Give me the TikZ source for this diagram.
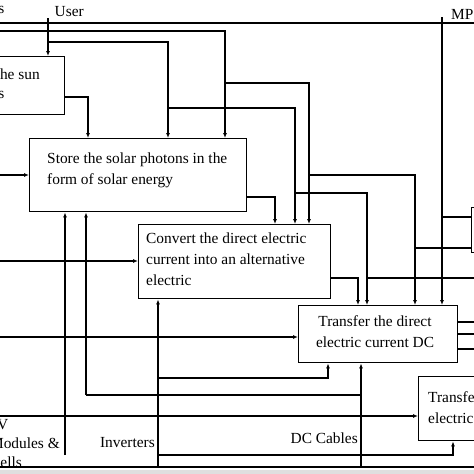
\documentclass[tikz,border=0pt]{standalone}
\usepackage{fontspec}
\setmainfont{Liberation Serif}
\usetikzlibrary{arrows.meta}
\begin{document}
\begin{tikzpicture}[x=1pt,y=-1pt,
  ln/.style={line width=1.2pt},
  arr/.style={line width=1.2pt,-{Latex[length=5pt,width=4pt]}},
  box/.style={draw,line width=1.4pt,anchor=north west,inner sep=0pt},
  txt/.style={font=\fontsize{15.4}{21}\selectfont,inner sep=0pt}]
\useasboundingbox (0,0) rectangle (474,474);
\clip (0,0) rectangle (474,474);
\fill[gray!25] (0,470) rectangle (474,474);
% boxes
\node[box,minimum width=84pt,minimum height=58pt] (sun) at (-20,56) {};
\node[box,minimum width=217pt,minimum height=73pt] (store) at (29,138) {};
\node[box,minimum width=192pt,minimum height=74pt] (conv) at (138,224) {};
\node[box,minimum width=159pt,minimum height=57pt] (tdc) at (298,305) {};
\node[box,minimum width=90pt,minimum height=64pt] (tac) at (418,376) {};
\node[box,minimum width=60pt,minimum height=45pt] (rbox) at (471,207) {};
% texts
\node[txt,anchor=east] (t1) at (40,74) {the sun};
\node[txt,anchor=east] (t2) at (4.5,95) {s};
\node[txt,anchor=west,align=left] (t3) at (47,170.5) {Store the solar photons in the\\form of solar energy};
\node[txt,anchor=west,align=left] (t4) at (146,259) {Convert the direct electric\\current into an alternative\\electric};
\node[txt,align=center] (t5) at (375,332) {Transfer the direct\\electric current DC};
\node[txt,anchor=west,align=left] (t6) at (428,408) {Transfer\\electric};
\node[txt,anchor=east] (lu) at (84,12) {User};
\node[txt,anchor=west] (lmp) at (451,14) {MP};
\node[txt,anchor=east] (ls) at (4.5,10) {s};
\node[txt,anchor=east] (lpv) at (8.5,425) {PV};
\node[txt,anchor=east] (lmod) at (60,443) {Modules \&};
\node[txt,anchor=east] (lcel) at (22,462) {Cells};
\node[txt,anchor=east] (linv) at (155,443) {Inverters};
\node[txt,anchor=east] (ldc) at (358,438) {DC Cables};
% top lines
\draw[ln] (0,23) -- (474,23);
\draw[arr] (48,18) -- (48,0 |- sun.north);
\draw[arr] (0,31) -- (225,31) -- (225,0 |- store.north);
\draw[arr] (48,42) -- (168,42) -- (168,0 |- store.north);
\draw[arr] (sun.east |- 0,97) -- (88,97) -- (88,0 |- store.north);
\draw[arr] (225,83) -- (309,83) -- (309,0 |- conv.north);
\draw[arr] (168,108) -- (295,108) -- (295,0 |- conv.north);
\draw[arr] (store.east |- 0,197) -- (275,197) -- (275,0 |- conv.north);
\draw[arr] (309,175) -- (415,175) -- (415,0 |- tdc.north);
\draw[arr] (295,193) -- (367,193) -- (367,0 |- tdc.north);
\draw[arr] (conv.east |- 0,278) -- (358,278) -- (358,0 |- tdc.north);
\draw[ln] (367,278) -- (474,278);
\draw[arr] (442,17) -- (442,0 |- tdc.north);
\draw[ln] (442,217) -- (rbox.west |- 0,217);
\draw[ln] (415,248) -- (rbox.west |- 0,248);
% left inputs
\draw[arr] (0,175) -- (store.west |- 0,175);
\draw[arr] (0,261) -- (conv.west |- 0,261);
\draw[arr] (0,337) -- (tdc.west |- 0,337);
\draw[arr] (0,416) -- (tac.west |- 0,416);
% outputs of tdc
\draw[ln] (tdc.east |- 0,322) -- (474,322);
\draw[ln] (tdc.east |- 0,334) -- (474,334);
\draw[ln] (tdc.east |- 0,349) -- (474,349);
% bottom mechanisms
\draw[ln] (0,467) -- (474,467);
\draw[arr] (65,455) -- (65,0 |- store.south);
\draw[arr] (86,395) -- (86,0 |- store.south);
\draw[ln] (86,395) -- (361,395);
\draw[arr] (158,467) -- (158,0 |- conv.south);
\draw[arr] (158,378) -- (328,378) -- (328,0 |- tdc.south);
\draw[arr] (158,455) -- (453,455) -- (453,0 |- tac.south);
\draw[arr] (361,467) -- (361,0 |- tdc.south);
\end{tikzpicture}
\end{document}
